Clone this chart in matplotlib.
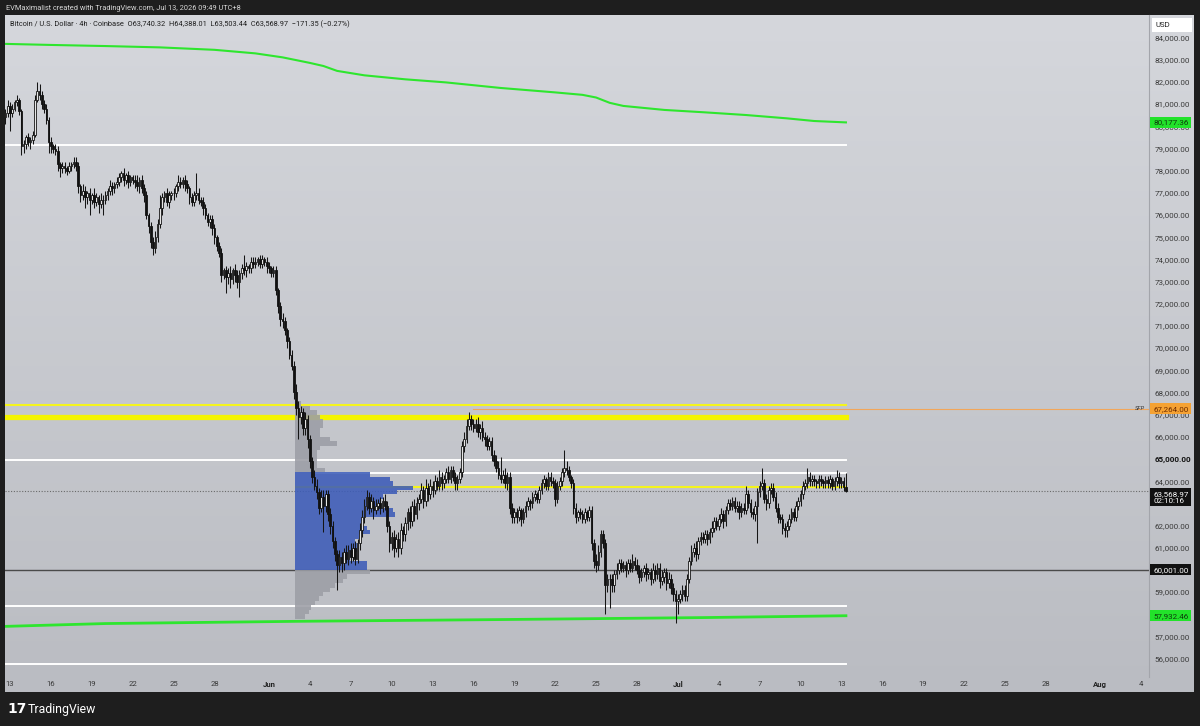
import numpy as np
import pandas as pd
import matplotlib
matplotlib.use('Agg')
import matplotlib.pyplot as plt
from matplotlib.patches import Rectangle
from matplotlib.transforms import blended_transform_factory

plt.rcParams['font.family'] = ['Roboto', 'DejaVu Sans']

# ---- data ----
# BTC/USD 4h closes in thousands of USD, one row per day, first bar May 12 16:00
first_open_k = 80.4
close_k = [
    80.6, 80.9,                                  # May 12
    80.6, 80.8, 81.1, 81.2, 80.7, 79.1,          # May 13
    79.2, 79.5, 79.3, 79.4, 79.6, 81.2,          # May 14
    81.6, 81.4, 81.0, 80.8, 80.3, 79.3,          # May 15
    79.1, 79.0, 78.9, 78.3, 78.1, 78.2,          # May 16
    78.1, 78.0, 78.2, 78.3, 78.4, 78.2,          # May 17
    77.3, 76.9, 77.1, 76.8, 77.0, 76.7,          # May 18
    76.9, 76.6, 76.8, 76.5, 76.7, 76.7,          # May 19
    76.9, 77.1, 77.3, 77.2, 77.4, 77.5,          # May 20
    77.7, 77.9, 77.6, 77.8, 77.5, 77.7,          # May 21
    77.6, 77.5, 77.3, 77.6, 77.2, 76.9,          # May 22
    76.0, 75.5, 74.8, 74.5, 75.0, 75.6,          # May 23
    76.3, 76.8, 77.0, 76.6, 76.9, 77.0,          # May 24
    77.0, 77.3, 77.5, 77.4, 77.6, 77.4,          # May 25
    77.2, 76.8, 76.6, 76.9, 77.0, 76.7,          # May 26
    76.6, 76.3, 76.0, 75.7, 75.8, 75.4,          # May 27
    75.0, 74.6, 74.3, 73.3, 73.5, 73.2,          # May 28
    73.4, 73.1, 73.5, 73.3, 73.0, 73.4,          # May 29
    73.6, 73.5, 73.7, 73.6, 73.9, 73.8,          # May 30
    73.9, 74.0, 73.8, 74.0, 73.9, 73.7,          # May 31
    73.6, 73.4, 73.5, 72.6, 71.9, 71.3,          # Jun 1
    71.2, 70.8, 70.3, 69.7, 69.2, 68.0,          # Jun 2
    67.3, 66.9, 67.1, 66.4, 66.8, 65.9,          # Jun 3
    64.9, 64.2, 63.8, 63.5, 62.8, 63.3,          # Jun 4
    62.9, 63.4, 62.5, 62.0, 61.3, 60.7,          # Jun 5
    60.2, 60.6, 60.3, 60.8, 60.5, 60.9,          # Jun 6
    60.6, 61.0, 60.5, 61.2, 61.8, 62.4,          # Jun 7
    62.9, 63.3, 62.8, 63.1, 62.7, 62.9,          # Jun 8
    63.0, 62.8, 63.1, 62.9, 62.0, 61.2,          # Jun 9
    61.5, 61.0, 61.4, 61.0, 61.8, 61.6,          # Jun 10
    62.1, 62.6, 62.2, 62.9, 62.5, 63.0,          # Jun 11
    63.2, 63.6, 63.1, 63.7, 63.4, 63.8,          # Jun 12
    63.6, 64.0, 63.8, 64.2, 63.9, 64.1,          # Jun 13
    64.4, 64.1, 64.5, 64.2, 63.9, 64.1,          # Jun 14
    64.4, 65.6, 65.9, 66.5, 66.8, 66.6,          # Jun 15
    66.4, 66.6, 66.2, 66.4, 66.0, 65.9,          # Jun 16
    65.6, 65.8, 65.2, 64.9, 64.6, 64.3,          # Jun 17
    64.1, 64.3, 63.9, 64.2, 62.8, 62.4,          # Jun 18
    62.6, 62.4, 62.7, 62.3, 62.6, 62.9,          # Jun 19
    63.1, 63.0, 63.3, 63.4, 63.2, 63.6,          # Jun 20
    63.9, 64.1, 63.8, 64.2, 64.0, 63.9,          # Jun 21
    63.2, 63.8, 64.0, 64.4, 64.6, 64.5,          # Jun 22
    64.2, 63.9, 62.8, 62.4, 62.6, 62.5,          # Jun 23
    62.3, 62.6, 62.4, 62.7, 61.2, 60.4,          # Jun 24
    60.2, 60.8, 61.6, 61.2, 59.3, 59.6,          # Jun 25
    59.6, 59.3, 59.8, 60.0, 60.3, 60.1,          # Jun 26
    60.2, 60.0, 60.3, 60.1, 60.4, 60.2,          # Jun 27
    60.0, 59.7, 59.9, 60.1, 59.8, 59.9,          # Jun 28
    59.6, 60.0, 59.8, 60.1, 59.5, 59.7,          # Jun 29
    59.9, 59.4, 59.6, 59.2, 58.9, 58.6,          # Jun 30
    58.7, 58.9, 59.1, 58.8, 59.6, 60.4,          # Jul 1
    60.8, 61.0, 60.7, 61.3, 61.5, 61.4,          # Jul 2
    61.6, 61.4, 61.7, 61.9, 62.2, 62.0,          # Jul 3
    62.3, 62.5, 62.2, 62.7, 63.0, 62.9,          # Jul 4
    63.1, 62.8, 62.9, 62.6, 62.8, 62.7,          # Jul 5
    63.4, 63.0, 62.6, 62.5, 62.9, 63.5,          # Jul 6
    63.8, 63.9, 63.2, 63.0, 63.6, 63.7,          # Jul 7
    63.3, 62.8, 62.4, 62.3, 61.9, 61.8,          # Jul 8
    62.0, 62.3, 62.6, 62.4, 62.9, 63.1,          # Jul 9
    63.4, 63.8, 63.9, 64.2, 64.0, 64.1,          # Jul 10
    64.0, 63.9, 64.1, 64.0, 63.9, 64.05,         # Jul 11
    63.9, 64.1, 63.8, 64.0, 64.2, 63.9,          # Jul 12
    64.0, 63.74032, 63.56897,                    # Jul 13
]
# wick lengths above / below the body, hundreds of USD
wick_up = [
    2, 3,
    2, 2, 1, 2, 1, 1,
    2, 1, 2, 1, 2, 2,
    4, 3, 2, 2, 2, 1,
    2, 1, 2, 2, 1, 2,
    2, 1, 2, 1, 2, 2,
    2, 1, 3, 2, 1, 2,
    1, 3, 2, 1, 3, 2,
    2, 1, 3, 2, 1, 2,
    2, 1, 2, 1, 2, 1,
    1, 2, 3, 1, 2, 2,
    2, 1, 2, 2, 3, 2,
    6, 2, 1, 2, 2, 1,
    2, 1, 3, 2, 1, 2,
    2, 1, 2, 2, 9, 2,
    1, 2, 2, 1, 2, 2,
    2, 1, 2, 2, 1, 2,
    2, 3, 1, 3, 2, 1,
    2, 6, 2, 1, 2, 2,
    2, 1, 2, 2, 1, 2,
    2, 1, 2, 2, 1, 2,
    3, 2, 1, 2, 2, 2,
    4, 3, 3, 2, 3, 2,
    2, 2, 3, 3, 2, 3,
    3, 2, 2, 3, 2, 2,
    2, 3, 2, 2, 3, 2,
    3, 2, 3, 2, 3, 3,
    3, 3, 2, 3, 2, 3,
    2, 3, 2, 3, 2, 2,
    2, 3, 2, 3, 3, 2,
    3, 2, 3, 2, 3, 3,
    2, 3, 2, 4, 2, 3,
    2, 3, 2, 3, 2, 2,
    2, 3, 2, 2, 2, 2,
    2, 2, 3, 3, 3, 2,
    2, 2, 3, 2, 3, 2,
    2, 2, 2, 2, 3, 3,
    8, 2, 3, 2, 2, 2,
    2, 2, 2, 1, 2, 2,
    2, 1, 2, 2, 1, 2,
    2, 2, 1, 2, 2, 2,
    2, 2, 2, 2, 8, 3,
    2, 1, 2, 2, 1, 2,
    2, 2, 1, 2, 2, 2,
    3, 3, 2, 2, 2, 2,
    2, 2, 2, 3, 2, 2,
    2, 2, 2, 2, 3, 2,
    3, 2, 2, 1, 2, 2,
    2, 3, 2, 2, 2, 3,
    2, 2, 3, 2, 2, 2,
    2, 2, 2, 2, 2, 2,
    3, 2, 3, 2, 2, 2,
    2, 2, 2, 3, 2, 2,
    2, 3, 2, 2, 2, 2,
    2, 2, 2, 2, 2, 2,
    4, 2, 2, 2, 2, 2,
    2, 7, 2, 2, 2, 2,
    2, 2, 2, 1, 2, 2,
    2, 2, 2, 2, 2, 2,
    2, 2, 2, 4, 2, 2,
    2, 1, 2, 2, 1, 2,
    2, 2, 1, 2, 3, 2,
    2, 2, 6.5,
]
wick_dn = [
    3, 2,
    8, 2, 1, 2, 2, 4,
    3, 2, 2, 3, 2, 1,
    1, 2, 2, 2, 2, 5,
    3, 2, 2, 3, 4, 2,
    2, 2, 1, 2, 2, 2,
    3, 3, 2, 5, 3, 7,
    2, 3, 2, 4, 2, 7,
    2, 2, 2, 3, 2, 2,
    2, 2, 3, 2, 3, 2,
    2, 3, 2, 3, 2, 3,
    2, 3, 3, 3, 2, 2,
    2, 3, 2, 2, 3, 2,
    3, 2, 2, 2, 2, 3,
    2, 3, 2, 2, 2, 2,
    2, 3, 2, 2, 3, 3,
    3, 2, 2, 3, 2, 7,
    3, 4, 2, 3, 3, 7,
    3, 2, 3, 2, 2, 2,
    2, 2, 2, 2, 2, 3,
    2, 2, 2, 2, 3, 3,
    3, 2, 3, 2, 2, 3,
    3, 10, 3, 3, 3, 4,
    3, 3, 2, 3, 3, 2,
    12, 3, 3, 4, 3, 3,
    11, 3, 4, 3, 2, 3,
    3, 2, 3, 2, 3, 3,
    3, 2, 3, 2, 4, 2,
    2, 3, 2, 2, 3, 4,
    3, 4, 2, 4, 3, 3,
    3, 3, 3, 2, 3, 2,
    3, 2, 3, 2, 3, 2,
    3, 2, 2, 2, 3, 2,
    2, 2, 2, 2, 3, 3,
    2, 2, 3, 2, 2, 3,
    2, 2, 2, 3, 2, 3,
    2, 2, 3, 2, 2, 2,
    2, 2, 2, 3, 3, 3,
    3, 3, 2, 3, 2, 2,
    2, 3, 2, 2, 2, 2,
    2, 2, 2, 2, 2, 2,
    3, 2, 2, 2, 2, 2,
    2, 2, 3, 3, 2, 2,
    2, 2, 2, 2, 3, 3,
    3, 2, 2, 2, 13, 3,
    13, 3, 3, 2, 2, 2,
    2, 3, 2, 2, 2, 2,
    2, 3, 2, 2, 3, 2,
    3, 2, 3, 2, 3, 2,
    3, 3, 2, 3, 3, 10,
    6, 2, 3, 2, 2, 2,
    2, 2, 3, 2, 2, 2,
    2, 3, 2, 2, 2, 2,
    2, 2, 3, 2, 2, 2,
    2, 2, 2, 3, 2, 2,
    2, 2, 2, 2, 3, 17,
    2, 2, 2, 3, 2, 2,
    2, 2, 3, 2, 3, 3,
    3, 2, 2, 2, 2, 2,
    2, 2, 2, 2, 2, 2,
    2, 2, 2, 2, 2, 2,
    2, 2, 2, 2, 2, 2,
    2, 2, 0.7,
]

# upper moving average (thousands)
ma_hi_dates = ['2026-05-12 12:00', '2026-05-16 00:00', '2026-05-20 00:00', '2026-05-24 00:00',
               '2026-05-28 00:00', '2026-05-31 00:00', '2026-06-02 00:00', '2026-06-04 00:00',
               '2026-06-05 00:00', '2026-06-06 00:00', '2026-06-08 00:00', '2026-06-11 00:00',
               '2026-06-14 00:00', '2026-06-18 00:00', '2026-06-22 00:00', '2026-06-24 00:00',
               '2026-06-25 00:00', '2026-06-26 00:00', '2026-06-27 00:00', '2026-06-30 00:00',
               '2026-07-03 00:00', '2026-07-06 00:00', '2026-07-09 00:00', '2026-07-11 00:00',
               '2026-07-13 08:00']
ma_hi_k = [83.72, 83.67, 83.62, 83.56, 83.45, 83.29, 83.11, 82.86, 82.72, 82.50,
           82.30, 82.12, 81.98, 81.73, 81.53, 81.42, 81.30, 81.06, 80.92, 80.74,
           80.63, 80.51, 80.36, 80.24, 80.17736]
# lower moving average (thousands)
ma_lo_dates = ['2026-05-12 12:00', '2026-05-20 00:00', '2026-06-03 00:00', '2026-06-18 00:00',
               '2026-07-03 00:00', '2026-07-13 08:00']
ma_lo_k = [57.45, 57.58, 57.68, 57.76, 57.85, 57.93246]

white_levels = [79160, 64950, 58380, 55760]
vah_level = 64370
yellow_thin = 67440
yellow_thick = 66880
poc_level = 63740
sfp_level = 67264
support_level = 60001
last_price = 63568.97

# fixed range volume profile starting Jun 3, bins of $200 (lower edge, thousands)
vp_bins_k = [57.8, 58.0, 58.2, 58.4, 58.6, 58.8, 59.0, 59.2, 59.4, 59.6, 59.8,
             60.0, 60.2, 60.4, 60.6, 60.8, 61.0, 61.2, 61.4, 61.6, 61.8, 62.0,
             62.2, 62.4, 62.6, 62.8, 63.0, 63.2, 63.4, 63.6, 63.8, 64.0, 64.2,
             64.4, 64.6, 64.8, 65.0, 65.2, 65.4, 65.6, 65.8, 66.0, 66.2, 66.4,
             66.6, 66.8, 67.0, 67.2, 67.4]
vp_volume = [10, 14, 16, 20, 24, 28, 35, 40, 48, 52, 75,
             72, 72, 55, 56, 62, 62, 60, 64, 75, 72, 66,
             68, 100, 98, 82, 85, 88, 102, 118, 98, 95, 75,
             30, 22, 22, 22, 22, 25, 42, 35, 25, 25, 28,
             28, 25, 22, 15, 6]
va_low_k, va_high_k = 60.0, 64.4

tick_dates = ['2026-05-13', '2026-05-16', '2026-05-19', '2026-05-22', '2026-05-25', '2026-05-28',
              '2026-06-01', '2026-06-04', '2026-06-07', '2026-06-10', '2026-06-13', '2026-06-16',
              '2026-06-19', '2026-06-22', '2026-06-25', '2026-06-28', '2026-07-01', '2026-07-04',
              '2026-07-07', '2026-07-10', '2026-07-13', '2026-07-16', '2026-07-19', '2026-07-22',
              '2026-07-25', '2026-07-28', '2026-08-01', '2026-08-04']

# ---- build candles ----
closes = np.array(close_k) * 1000
opens = np.concatenate([[first_open_k * 1000], closes[:-1]])
highs = np.maximum(opens, closes) + np.array(wick_up) * 100
lows = np.minimum(opens, closes) - np.array(wick_dn) * 100
times = pd.date_range('2026-05-12 16:00', periods=len(closes), freq='4h')
t_end = times[-1]

W, H = 1200, 726
fig = plt.figure(figsize=(W / 100, H / 100), dpi=100)
fig.patch.set_facecolor('#1e1e1e')

# panel background with soft vertical gradient
bg = fig.add_axes([5 / W, 1 - 692 / H, 1189 / W, 677 / H])
grad = np.linspace(0, 1, 256).reshape(-1, 1)
top_c = np.array([213, 215, 220]) / 255
bot_c = np.array([186, 188, 194]) / 255
img = top_c + (bot_c - top_c) * grad[..., None]
bg.imshow(img, aspect='auto', extent=[0, 1, 0, 1])
bg.axis('off')

ax = fig.add_axes([5 / W, 1 - 677 / H, 1144 / W, 662 / H])
ax.set_facecolor('none')
x0 = pd.Timestamp('2026-05-12 15:12')
x1 = pd.Timestamp('2026-08-04 13:40')
ax.set_xlim(x0, x1)
ax.set_ylim(55170, 85020)

# horizontal levels
for lv in white_levels:
    ax.plot([x0, t_end], [lv, lv], color='white', lw=1.4, zorder=1)
ax.plot([pd.Timestamp('2026-06-04 06:00'), t_end], [vah_level] * 2, color='white', lw=1.4, zorder=1)
ax.plot([x0, t_end], [yellow_thin] * 2, color='#f4f41c', lw=1.5, zorder=1)
ax.plot([x0, t_end], [yellow_thick] * 2, color='#f4f400', lw=3.8, zorder=1)
ax.plot([pd.Timestamp('2026-06-03'), t_end], [poc_level] * 2, color='#f4f41c', lw=1.5, zorder=1)
ax.plot([pd.Timestamp('2026-06-16'), x1], [sfp_level] * 2, color='#f2a65a', lw=0.8, zorder=1)
ax.plot([x0, x1], [support_level] * 2, color='#4a4a4a', lw=1.0, zorder=1)
ax.plot([x0, x1], [last_price] * 2, color='#6a6a6a', lw=0.8, ls=(0, (1, 1.5)), zorder=1)

# moving averages
ax.plot(pd.to_datetime(ma_hi_dates), np.array(ma_hi_k) * 1000, color='#2ee62e', lw=1.5, zorder=2)
ax.plot(pd.to_datetime(ma_lo_dates), np.array(ma_lo_k) * 1000, color='#2ee62e', lw=2.0, zorder=2)

# volume profile as a child axes sharing the price scale
px0 = (295 - 5) / 1144
vp = ax.inset_axes([px0, 0, 120 / 1144, 1])
vp.set_ylim(ax.get_ylim())
vp.set_xlim(0, 120)
vp.axis('off')
vp.set_zorder(1.5)
bins = np.array(vp_bins_k) * 1000
in_va = (np.array(vp_bins_k) >= va_low_k) & (np.array(vp_bins_k) < va_high_k)
cols = np.where(in_va, '#3d5cb8', '#9c9ea6')
vp.barh(bins + 100, vp_volume, height=200, color=cols, alpha=0.88, linewidth=0)

# candles
up = closes >= opens
ax.vlines(times, lows, highs, color='#151515', lw=0.75, zorder=3)
ax.bar(times[up], closes[up] - opens[up], bottom=opens[up], width=0.12,
       color='#e6e6e6', edgecolor='#151515', linewidth=0.6, zorder=4)
ax.bar(times[~up], closes[~up] - opens[~up], bottom=opens[~up], width=0.12,
       color='#111111', edgecolor='#111111', linewidth=0.6, zorder=4)

# axes styling
for s in ['top', 'left', 'bottom']:
    ax.spines[s].set_visible(False)
ax.spines['right'].set_color('#a3a5ab')
ax.spines['right'].set_linewidth(0.8)

yt = np.arange(56000, 84001, 1000)
ax.yaxis.tick_right()
ax.set_yticks(yt)
# 63,000 sits fully under the live price tag
ax.set_yticklabels(['' if v == 63000 else f'{v:,.2f}' for v in yt])
ax.tick_params(axis='y', length=0, pad=4, labelsize=5.8, labelcolor='#3a3a3a')
for lab, v in zip(ax.get_yticklabels(), yt):
    if v == 65000:
        lab.set_fontweight('bold')
        lab.set_color('#111111')

td = pd.to_datetime(tick_dates)
ax.set_xticks(td)
ax.set_xticklabels([d.strftime('%b') if d.day == 1 else str(d.day) for d in td])
ax.tick_params(axis='x', length=0, pad=3, labelsize=5.6, labelcolor='#3a3a3a')
for lab, d in zip(ax.get_xticklabels(), td):
    if d.day == 1:
        lab.set_fontweight('bold')
        lab.set_color('#222222')

# price tags on the right scale
trans = blended_transform_factory(ax.transAxes, ax.transData)


def price_tag(y, text, bg_c, fg_c):
    ax.text(1.0035, y, text, transform=trans, ha='left', va='center', fontsize=5.8,
            color=fg_c, linespacing=1.15, clip_on=False, zorder=20,
            bbox=dict(boxstyle='square,pad=0.32', fc=bg_c, ec='none'))


price_tag(ma_hi_k[-1] * 1000, f'{ma_hi_k[-1] * 1000:,.2f}', '#22e22a', '#0c3a0c')
price_tag(sfp_level, f'{sfp_level:,.2f}', '#f5a233', '#6b2a00')
price_tag(last_price - 300, f'{last_price:,.2f}\n02:10:16', '#111111', 'white')
price_tag(support_level, f'{support_level:,.2f}', '#111111', 'white')
price_tag(ma_lo_k[-1] * 1000, f'{ma_lo_k[-1] * 1000:,.2f}', '#22e22a', '#0c3a0c')
ax.text(0.9965, sfp_level, 'SFP', transform=trans, ha='right', va='center', fontsize=4.2,
        style='italic', color='#333333', zorder=20)

# USD box
fig.patches.append(Rectangle((1152 / W, 1 - 32 / H), 40 / W, 14 / H, transform=fig.transFigure,
                             fc='white', ec='none', zorder=5))
fig.text(1156 / W, 1 - 25 / H, 'USD', fontsize=5.6, color='#222222', va='center', zorder=6)

# header and title
fig.text(6 / W, 1 - 9 / H, 'EVMaximalist created with TradingView.com, Jul 13, 2026 09:49 UTC+8',
         fontsize=5.3, color='#d8d8d8', va='center')
fig.text(10 / W, 1 - 24.5 / H,
         'Bitcoin / U.S. Dollar · 4h · Coinbase  O63,740.32  H64,388.01  L63,503.44  '
         'C63,568.97  \u2212171.35 (\u22120.27%)',
         fontsize=5.3, color='#1e1e1e', va='center')

# footer
fig.text(7 / W, 1 - 709 / H, '17', fontsize=10, fontweight='bold', color='white', va='center',
         family='DejaVu Sans')
fig.text(28 / W, 1 - 709 / H, 'TradingView', fontsize=8.8, color='white', va='center')

fig.savefig('out.png', dpi=100, facecolor=fig.get_facecolor())
